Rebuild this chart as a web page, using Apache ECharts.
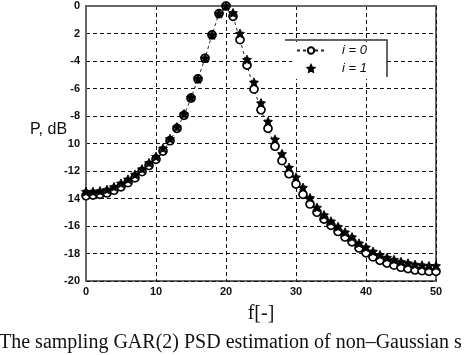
<!DOCTYPE html>
<html>
<head>
<meta charset="utf-8">
<script src="https://cdn.jsdelivr.net/npm/echarts@6/dist/echarts.min.js"></script>
<style>
html,body{margin:0;padding:0;background:#fff;}
#c{width:474px;height:355px;}
</style>
</head>
<body>
<div id="c"></div>
<script>
// frequency bins f[-]
const freq = [0,1,2,3,4,5,6,7,8,9,10,11,12,13,14,15,16,17,18,19,20,21,22,23,24,25,26,27,28,29,30,31,32,33,34,35,36,37,38,39,40,41,42,43,44,45,46,47,48,49,50];
// i = 0 (open circles, dashed line), P in dB
const psdI0 = [-13.8,-13.75,-13.7,-13.6,-13.4,-13.15,-12.85,-12.5,-12.05,-11.6,-11.15,-10.55,-9.8,-8.9,-7.95,-6.7,-5.3,-3.8,-2.1,-0.55,0,
  -0.75,-2.45,-4.3,-6.05,-7.55,-8.9,-10.2,-11.25,-12.2,-12.95,-13.7,-14.4,-15.0,-15.5,-15.95,-16.4,-16.8,-17.15,-17.6,-17.95,-18.25,-18.5,-18.7,-18.85,-19.0,-19.1,-19.2,-19.25,-19.3,-19.3];
// i = 1 (filled stars)
const psdI1 = [-13.5,-13.5,-13.45,-13.35,-13.15,-12.9,-12.6,-12.25,-11.85,-11.4,-10.95,-10.35,-9.65,-8.8,-7.85,-6.65,-5.3,-3.8,-2.1,-0.55,0,
  -0.5,-2.0,-3.9,-5.55,-7.05,-8.4,-9.7,-10.75,-11.75,-12.45,-13.2,-13.95,-14.65,-15.2,-15.65,-16.05,-16.45,-16.8,-17.25,-17.55,-17.85,-18.1,-18.3,-18.45,-18.6,-18.7,-18.8,-18.85,-18.9,-18.9];
// tick labels as printed in the reference
const yTickValues = [0,-2,-4,-6,-8,-10,-12,-14,-16,-18,-20];
const yTickLabels = ['0','2','-4','-6','-8','10','-12','14','-16','-18','-20'];
const xTickValues = [0,10,20,30,40,50];
const xTickLabels = ['0','10','20','30','40','50'];
const seriesNames = ['i = 0','i = 1'];
const captionText = 'The sampling GAR(2) PSD estimation of non\u2013Gaussian s';

const starPath = 'path://M10 0 L12.94 5.95 L19.51 6.91 L14.76 11.55 L15.88 18.09 L10 15 L4.12 18.09 L5.24 11.55 L0.49 6.91 L7.06 5.95 Z';

const chart = echarts.init(document.getElementById('c'), null, {renderer:'canvas'});
const tickFont = {fontFamily:'Liberation Sans, Arial, sans-serif', fontSize:11, fontWeight:'bold', color:'#111'};

chart.setOption({
  animation:false,
  backgroundColor:'#fff',
  grid:{left:86, top:6, width:350, height:275, show:true, borderColor:'#666', borderWidth:2, backgroundColor:'transparent'},
  xAxis:{
    type:'value', min:0, max:50, interval:10,
    name:'f[-]', nameLocation:'middle', nameGap:23,
    nameTextStyle:{fontFamily:'Liberation Serif, Times New Roman, serif', fontSize:20, color:'#111'},
    axisLine:{show:true, lineStyle:{color:'#666', width:2}},
    axisTick:{show:false},
    axisLabel:Object.assign({margin:5, formatter:function(v){const i=xTickValues.indexOf(v);return i>=0?xTickLabels[i]:'';}}, tickFont),
    splitLine:{show:true, lineStyle:{color:'#111', type:[4,3], width:1}}
  },
  yAxis:{
    type:'value', min:-20, max:0, interval:2,
    axisLine:{show:true, lineStyle:{color:'#666', width:2}},
    axisTick:{show:false},
    axisLabel:Object.assign({margin:6, formatter:function(v){const i=yTickValues.indexOf(Math.round(v));return i>=0?yTickLabels[i]:'';}}, tickFont),
    splitLine:{show:true, lineStyle:{color:'#111', type:[4,3], width:1}}
  },
  legend:{
    orient:'vertical', left:292, top:42, itemGap:5, itemWidth:28, itemHeight:8,
    backgroundColor:'#fff', padding:[2,20,4,4],
    textStyle:{fontFamily:'Liberation Sans, Arial, sans-serif', fontSize:13, fontStyle:'italic', color:'#111', padding:[0,0,0,12]},
    data:[
      {name:seriesNames[0]},
      {name:seriesNames[1]}
    ]
  },
  series:[
    {
      name:seriesNames[0], type:'line',
      data:freq.map((f,i)=>[f,psdI0[i]]),
      symbol:'circle', symbolSize:8, showAllSymbol:true,
      lineStyle:{color:'#222', width:1, type:[3,3]},
      itemStyle:{color:'#fff', borderColor:'#000', borderWidth:1.7},
      z:2
    },
    {
      name:seriesNames[1], type:'line',
      data:freq.map((f,i)=>[f,psdI1[i]]),
      symbol:starPath, symbolSize:9, showAllSymbol:true,
      lineStyle:{width:0, opacity:0},
      itemStyle:{color:'#000', borderColor:'#000', borderWidth:0.8},
      z:3
    }
  ],
  graphic:[
    {type:'text', left:30, top:122, style:{text:'P, dB', font:'16px "Liberation Sans", Arial, sans-serif', fill:'#111'}},
    {type:'polyline', z:100, shape:{points:[[285,40],[387,40],[387,77]]}, style:{stroke:'#333', lineWidth:1.5, fill:null}},
    {type:'text', left:-1, top:333, style:{text:captionText, font:'20px "Liberation Serif", "Times New Roman", serif', fill:'#111'}}
  ]
});
</script>
</body>
</html>
